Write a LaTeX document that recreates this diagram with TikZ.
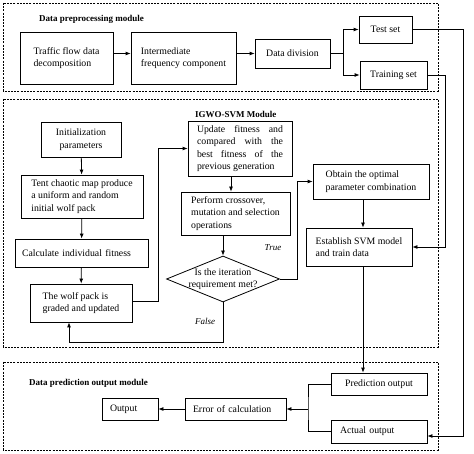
\documentclass[tikz,border=0pt]{standalone}
\usepackage{fontspec}
\setmainfont{Liberation Serif}
\usetikzlibrary{arrows.meta,calc,shapes.geometric}
\begin{document}
\begin{tikzpicture}[x=1pt,y=-1pt,
  box/.style={draw, line width=0.8pt, inner xsep=0pt, inner ysep=0pt, align=left,
    font=\fontsize{9.8}{12.5}\selectfont},
  cbox/.style={box, align=center},
  module/.style={draw, line width=0.9pt, dash pattern=on 2pt off 1.2pt},
  title/.style={anchor=west, inner sep=0pt, font=\bfseries\fontsize{9}{11}\selectfont},
  arr/.style={line width=0.8pt, -{Latex[length=5pt,width=4pt]}},
  ln/.style={line width=0.8pt},
  lbl/.style={inner sep=0pt, font=\itshape\fontsize{9}{11}\selectfont}
]
\useasboundingbox (0,0) rectangle (474,454);
% modules
\draw[module] (3,3) rectangle (438,91);
\draw[module] (3,99) rectangle (438,347);
\draw[module] (3,362) rectangle (438,450);
\node[title] (t1) at (39,19) {Data preprocessing module};
\node[title] (t2) at (195,114) {IGWO-SVM Module};
\node[title] (t3) at (29,383) {Data prediction output module};

% preprocessing
\node[box, minimum width=93pt, minimum height=52pt] (traffic) at (66.5,58) {Traffic flow data\\decomposition};
\node[box, minimum width=105pt, minimum height=52pt] (inter) at (183.5,58) {Intermediate\\frequency component};
\node[cbox, minimum width=75pt, minimum height=29pt] (division) at (292.5,53.5) {Data division};
\node[cbox, minimum width=53pt, minimum height=27pt] (test) at (385.5,29.5) {Test set};
\node[cbox, minimum width=67pt, minimum height=28pt] (train) at (393.5,75) {Training set};

% IGWO-SVM
\node[cbox, minimum width=80pt, minimum height=35pt] (init) at (81,139.5) {Initialization\\parameters};
\node[box, minimum width=122pt, minimum height=43pt] (tent) at (82,196.5) {Tent chaotic map produce\\a uniform and random\\initial wolf pack};
\node[box, inner xsep=7pt, text width=119pt, minimum height=28pt] (calc) at (81.5,253) {Calculate individual fitness};
\node[box, minimum width=102pt, minimum height=38pt] (wolf) at (81,303) {The wolf pack is\\graded and updated};
\node[box, minimum width=104pt, minimum height=55pt] (update) at (240,148.5)
  {\makebox[86pt][s]{Update fitness and}\\\makebox[86pt][s]{compared with the}\\\makebox[86pt][s]{best fitness of the}\\\makebox[86pt][l]{previous generation}};
\node[box, minimum width=109pt, minimum height=43pt] (perform) at (235.5,213.5) {Perform crossover,\\mutation and selection\\operations};
\node[draw, line width=0.8pt, diamond, minimum width=113pt, minimum height=46pt, inner sep=0pt] (dia) at (223,279) {};
\node[inner sep=0pt, align=center, font=\fontsize{9.8}{11.5}\selectfont] (diatext) at (dia.center) {Is the iteration\\requirement met?};
\node[box, minimum width=116pt, minimum height=35pt] (obtain) at (371,181.5) {Obtain the optimal\\parameter combination};
\node[box, minimum width=106pt, minimum height=38pt] (establish) at (359,247) {Establish SVM model\\and train data};
\node[lbl] (true) at (273,248) {True};
\node[lbl] (false) at (205,321) {False};

% output module
\node[cbox, minimum width=96pt, minimum height=22pt] (pred) at (379,384) {Prediction output};
\node[box, inner xsep=9pt, text width=78pt, minimum height=23pt] (actual) at (379,431.5) {Actual output};
\node[box, inner xsep=8pt, text width=85pt, minimum height=22pt] (error) at (235.5,409) {Error of calculation};
\node[box, inner xsep=8pt, text width=40pt, minimum height=22pt] (output) at (130,409) {Output};

% connectors: preprocessing
\draw[arr] (traffic.east |- division) -- (inter.west |- division);
\draw[arr] (inter.east |- division) -- (division.west);
\coordinate (br) at (343,53.5);
\draw[ln, line width=1.4pt] (division.east) -- (br);
\draw[arr] (br) |- (test.west);
\draw[arr] (br) |- (train.west);
\coordinate (tr) at (463,29.5);
\coordinate (tb) at (463,436);
\draw[arr] (test.east) -- (tr) -- (tb) -- (tb -| actual.east);
\coordinate (rr) at (445,75);
\draw[arr] (train.east) -- (rr) |- (establish.east);

% connectors: IGWO
\draw[arr] (init) -- (tent);
\draw[arr] (tent) -- (calc);
\draw[arr] (calc) -- (wolf);
\coordinate (w1) at (158,301);
\draw[arr] (wolf.east |- w1) -- (w1) |- (update.west);
\draw[arr] (update.south -| 231,0) -- (perform.north -| 231,0);
\draw[arr] (perform.south -| dia.north) -- (dia.north);
\coordinate (d1) at (297,279);
\draw[arr] (dia.east) -- (d1) |- (obtain.west);
\draw[arr] (obtain.south -| 363,0) -- (establish.north -| 363,0);
\draw[arr] (establish.south -| 363,0) -- (pred.north -| 363,0);
\coordinate (f1) at (223,342);
\coordinate (f2) at (69,342);
\draw[arr] (dia.south) -- (f1) -- (f2) -- (wolf.south -| f2);

% connectors: output
\coordinate (mg) at (308,409);
\draw[ln] (pred.west) -| (mg) |- (actual.west);
\draw[arr] (mg) -- (error.east);
\draw[arr] (error.west) -- (output.east);
\end{tikzpicture}
\end{document}
